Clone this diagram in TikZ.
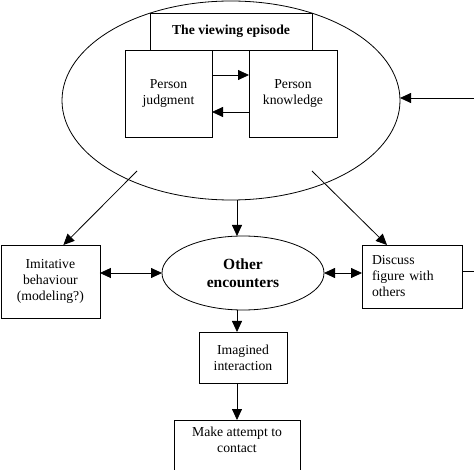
\documentclass[tikz,border=0pt]{standalone}
\usepackage{fontspec}
\setmainfont{Liberation Serif}
\usetikzlibrary{shapes.geometric,arrows.meta}
\newcommand\figfont{\fontsize{13.7}{16}\selectfont}
\begin{document}
\begin{tikzpicture}[x=1pt,y=-1pt,inner sep=0pt,outer sep=0pt,line width=0.8pt,font=\figfont,
txtbox/.style={draw,rectangle,align=center},
oval/.style={draw,ellipse},
arr/.style={-{Triangle[length=11pt,width=10pt]}},
dblarr/.style={{Triangle[length=11pt,width=10pt]}-{Triangle[length=11pt,width=10pt]}}]
\useasboundingbox (0,0) rectangle (474,470);
% the viewing episode
\draw (231,100.5) node[oval,minimum width=338pt,minimum height=199pt] (V) {};
\draw (231,31.5) node[txtbox,minimum width=162pt,minimum height=37pt,font=\figfont\bfseries] (T) {The viewing episode};
\draw (168.5,93.5) node[txtbox,minimum width=87pt,minimum height=87pt] (PJ) {Person\\judgment};
\draw (293,93.5) node[txtbox,minimum width=88pt,minimum height=87pt] (PK) {Person\\knowledge};
\draw[arr] ([yshift=18.5pt]PJ.east) -- ([yshift=18.5pt]PK.west);
\draw[arr] ([yshift=-18.5pt]PK.west) -- ([yshift=-18.5pt]PJ.east);
\coordinate (rin) at (474,98);
\draw[arr] (rin) -- (rin -| V.east);
% middle row
\draw (50.4,281.5) node[txtbox,minimum width=99pt,minimum height=73pt] (IB) {Imitative\\behaviour\\(modeling?)};
\draw (243,273) node[oval,minimum width=162pt,minimum height=74pt,align=center,font=\fontsize{15.5}{18}\selectfont\bfseries] (OE) {Other\\encounters};
\draw (412,276.5) node[txtbox,minimum width=100pt,minimum height=63pt,align=left,text width=80pt] (DF) {Discuss\\figure with\\others};
\coordinate (a1) at (137,171);
\coordinate (a2) at (312,171);
\draw[arr] (a1) -- ([xshift=13pt]IB.north);
\draw[arr] (a2) -- ([xshift=-25pt]DF.north);
\draw[dblarr] (IB.east |- OE.west) -- (OE.west);
\draw[dblarr] (OE.east) -- (DF.west |- OE.east);
\coordinate (rout) at (474,271);
\draw (DF.east |- rout) -- (rout);
% bottom
\draw (243,357.5) node[txtbox,minimum width=88pt,minimum height=51pt] (II) {Imagined\\interaction};
\draw (237,420) node[txtbox,anchor=north,minimum width=126pt,inner ysep=7pt] (MA) {Make attempt to\\contact\\[30pt]};
\draw[arr] (MA |- V.south) -- (MA |- OE.north);
\draw[arr] (MA |- OE.south) -- (MA |- II.north);
\draw[arr] (MA |- II.south) -- (MA.north);
\end{tikzpicture}
\end{document}
